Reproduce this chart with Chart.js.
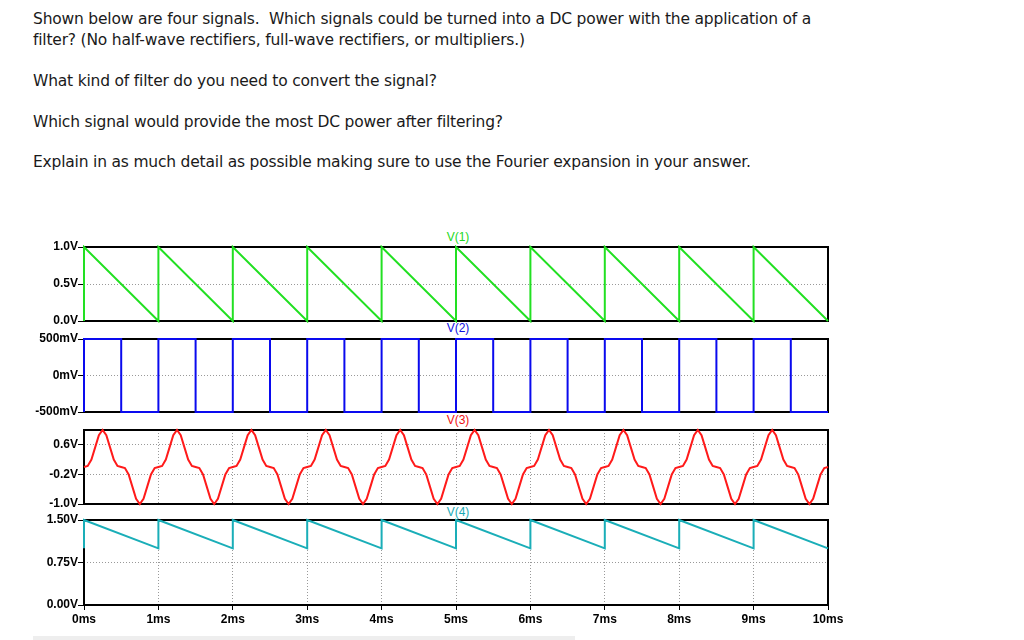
<!DOCTYPE html>
<html>
<head>
<meta charset="utf-8">
<script src="https://cdn.jsdelivr.net/npm/chart.js@4"></script>
<style>
  body { margin: 0; background: #fff; width: 1024px; height: 640px; position: relative; overflow: hidden; }
  .q { position: absolute; left: 33px; font-family: "DejaVu Sans", sans-serif; font-size: 15.5px; color: #1a1a1a; line-height: 21px; letter-spacing: -0.2px; }
  canvas { position: absolute; left: 0; }
  .lbl { position: absolute; width: 60px; left: 428px; text-align: center; font: 12px "Liberation Sans", Arial, sans-serif; }
</style>
</head>
<body>
<div class="q" style="top:9px">Shown below are four signals.&nbsp; Which signals could be turned into a DC power with the application of a<br>filter? (No half-wave rectifiers, full-wave rectifiers, or multipliers.)</div>
<div class="q" style="top:71px">What kind of filter do you need to convert the signal?</div>
<div class="q" style="top:112px">Which signal would provide the most DC power after filtering?</div>
<div class="q" style="top:152px">Explain in as much detail as possible making sure to use the Fourier expansion in your answer.</div>

<div class="lbl" style="top:230px;color:#22d822">V(1)</div>
<div class="lbl" style="top:321px;color:#1010e0">V(2)</div>
<div class="lbl" style="top:413px;color:#ee1111">V(3)</div>
<div class="lbl" style="top:505px;color:#1aaab5">V(4)</div>

<canvas id="c1"></canvas>
<canvas id="c2"></canvas>
<canvas id="c3"></canvas>
<canvas id="c4"></canvas>
<div style="position:absolute;left:33px;top:636px;width:542px;height:4px;background:#eee"></div>

<script>
// one period of each trace (ms, volts), repeated for 10 periods
const periods = 10
const v1Times = [0, 0]
const v1Volts = [0, 1.0]
const v1End = 0
const v2Times = [0, 0, 0.5, 0.5]
const v2Volts = [-0.5, 0.5, 0.5, -0.5]
const v2End = -0.5
const v3Times = [0, 0.05, 0.1, 0.15, 0.2, 0.25, 0.3, 0.35, 0.4, 0.45,
                 0.5, 0.55, 0.6, 0.65, 0.7, 0.75, 0.8, 0.85, 0.9, 0.95]
const v3Volts = [0, 0.03, 0.2, 0.53, 0.86, 1.0, 0.86, 0.53, 0.2, 0.03,
                 0, -0.03, -0.2, -0.53, -0.86, -1.0, -0.86, -0.53, -0.2, -0.03]
const v3End = 0
const v4Times = [0, 0]
const v4Volts = [1.0, 1.5]
const v4End = 1.0

const xTicks = [0, 1, 2, 3, 4, 5, 6, 7, 8, 9, 10]
const v1Ticks = [0, 0.5, 1]
const v2Ticks = [-0.5, 0, 0.5]
const v3Ticks = [-1, -0.6, -0.2, 0.2, 0.6, 1]
const v4Ticks = [0, 0.75, 1.5]

function build(times, volts, end) {
  const pts = []
  for (let k = 0; k < periods; k++) {
    times.forEach((t, i) => pts.push({ x: k + t, y: volts[i] }))
  }
  pts.push({ x: periods, y: end })
  return pts
}

const boxPlugin = {
  id: 'box',
  beforeDatasetsDraw(chart) {
    const a = chart.chartArea, c = chart.ctx
    c.save()
    c.strokeStyle = '#000'
    c.lineWidth = 2
    c.strokeRect(a.left, a.top, a.right - a.left, a.bottom - a.top)
    c.restore()
  }
}

function panel(id, top, h, color, pts, min, max, yTicks, fmt, last) {
  const cv = document.getElementById(id)
  const pad = 8
  const xh = last ? 24 : 0
  cv.width = 850
  cv.height = h + pad * 2 + xh
  cv.style.top = (top - pad) + 'px'
  const font = { family: 'Liberation Sans', size: 12, weight: 'bold' }
  new Chart(cv, {
    type: 'line',
    data: { datasets: [{ data: pts, borderColor: color, borderWidth: 2, pointRadius: 0, tension: 0, fill: false, clip: 2 }] },
    plugins: [boxPlugin],
    options: {
      responsive: false,
      animation: false,
      layout: { padding: { top: pad, bottom: last ? 0 : pad, right: 22, left: 0 } },
      plugins: { legend: { display: false }, tooltip: { enabled: false } },
      scales: {
        x: {
          type: 'linear', min: 0, max: 10,
          afterBuildTicks: s => { s.ticks = xTicks.map(v => ({ value: v })) },
          afterFit: s => { s.height = xh },
          border: { display: false, dash: [1, 2] },
          grid: { color: '#999', tickColor: '#000', tickLength: 5, drawTicks: last, lineWidth: 1 },
          ticks: { display: last, color: '#000', font, padding: 2, maxRotation: 0, callback: v => v + 'ms' }
        },
        y: {
          min, max,
          afterBuildTicks: s => { s.ticks = yTicks.map(v => ({ value: v })) },
          afterFit: s => { s.width = 84 },
          border: { display: false, dash: [1, 2] },
          grid: { color: '#999', tickColor: '#000', tickLength: 6, lineWidth: 1 },
          ticks: { color: '#000', font, padding: 0, callback: fmt }
        }
      }
    }
  })
}

panel('c1', 247, 74, '#22e022', build(v1Times, v1Volts, v1End), 0, 1, v1Ticks, v => v.toFixed(1) + 'V', false)
panel('c2', 339, 73, '#0a0aee', build(v2Times, v2Volts, v2End), -0.5, 0.5, v2Ticks, v => Math.round(v * 1000) + 'mV', false)
panel('c3', 430, 74, '#ff1a1a', build(v3Times, v3Volts, v3End), -1, 1, v3Ticks, v => v.toFixed(1) + 'V', false)
panel('c4', 520, 77, '#1aaeb8', build(v4Times, v4Volts, v4End), 0, 1.5, v4Ticks, v => v.toFixed(2) + 'V', true)
</script>
</body>
</html>
